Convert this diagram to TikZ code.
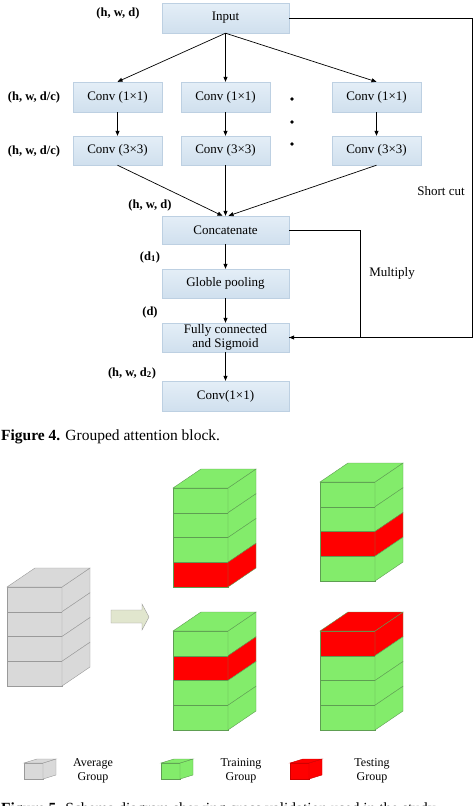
\documentclass[tikz,border=0pt]{standalone}
\usepackage{fontspec}
\setmainfont{Liberation Serif}
\usetikzlibrary{arrows.meta}
\definecolor{boxtop}{HTML}{E4EEF7}
\definecolor{boxbot}{HTML}{D0E0EE}
\definecolor{boxline}{HTML}{BDD0E2}
\definecolor{traingreen}{HTML}{83EC6B}
\definecolor{testred}{HTML}{FF0000}
\definecolor{avggrey}{HTML}{D9D9D9}
\definecolor{greenline}{HTML}{5E9E52}
\definecolor{greyline}{HTML}{9A9A9A}
\definecolor{arrowfill}{HTML}{E1E6CE}
\newcommand{\cubestack}[2]{%
  \foreach \col [count=\k] in {#2}{%
    \pgfmathsetmacro{\ya}{(\k-1)*24.75}%
    \pgfmathsetmacro{\yb}{\k*24.75}%
    \filldraw[draw=#1, fill=\col] (0,\ya) rectangle (55,\yb);%
    \filldraw[draw=#1, fill=\col] (55,\ya) -- (83,\ya-19) -- (83,\yb-19) -- (55,\yb) -- cycle;%
    \ifnum\k=1 \filldraw[draw=#1, fill=\col] (0,0) -- (28,-19) -- (83,-19) -- (55,0) -- cycle;\fi
  }%
}
\newcommand{\minicube}[2]{%
  \filldraw[draw=#1, fill=#2] (0,0) rectangle (19,16);%
  \filldraw[draw=#1, fill=#2] (19,0) -- (32,-4) -- (32,12) -- (19,16) -- cycle;%
  \filldraw[draw=#1, fill=#2] (0,0) -- (13,-4) -- (32,-4) -- (19,0) -- cycle;%
}
\tikzset{
  blk/.style={draw=boxline, top color=boxtop, bottom color=boxbot,
    minimum width=127pt, minimum height=29pt, inner sep=1pt,
    align=center, font=\fontsize{13}{14.5}\selectfont},
  convblk/.style={blk, minimum width=89pt},
  dimlbl/.style={font=\fontsize{12.5}{14}\selectfont\bfseries},
  arr/.style={-{Triangle[length=5pt,width=4pt]}, line width=0.7pt},
  plain/.style={line width=0.7pt},
  lgd/.style={align=center, font=\fontsize{12}{14}\selectfont}
}
\begin{document}
\begin{tikzpicture}[x=1pt, y=-1pt]
  \useasboundingbox (0,0) rectangle (474,806);
  \node[blk, minimum height=30pt] (inp) at (225.5,18) {Input};
  \node[convblk, minimum height=30pt] (c1a) at (117.5,97) {Conv (1×1)};
  \node[convblk, minimum height=30pt] (c1b) at (225.5,97) {Conv (1×1)};
  \node[convblk, minimum height=30pt] (c1c) at (376.5,97) {Conv (1×1)};
  \node[convblk] (c3a) at (117.5,150.5) {Conv (3×3)};
  \node[convblk] (c3b) at (225.5,150.5) {Conv (3×3)};
  \node[convblk] (c3c) at (376.5,150.5) {Conv (3×3)};
  \node[blk, minimum height=28pt] (cat) at (225.5,230) {Concatenate};
  \node[blk] (pool) at (225.5,283.5) {Globle pooling};
  \node[blk] (fc) at (225.5,337.5) {Fully connected\\and Sigmoid};
  \node[blk, minimum height=30pt] (out) at (225.5,396) {Conv(1×1)};
  \node[dimlbl] (d0) at (118,13) {(h, w, d)};
  \node[dimlbl] (d1) at (34,97) {(h, w, d/c)};
  \node[dimlbl] (d2) at (34,151) {(h, w, d/c)};
  \node[dimlbl] (d3) at (150,205) {(h, w, d)};
  \node[dimlbl] (d4) at (150,257) {(d\textsubscript{1})};
  \node[dimlbl] (d5) at (150,312) {(d)};
  \node[dimlbl] (d6) at (132,373) {(h, w, d\textsubscript{2})};
  \foreach \yy in {99,122,144} \fill (292,\yy) circle (1.8);
  \draw[arr] (inp.south) -- (c1a.north);
  \draw[arr] (inp.south) -- (c1b.north);
  \draw[arr] (inp.south) -- (c1c.north);
  \draw[arr] (c1a) -- (c3a);
  \draw[arr] (c1b) -- (c3b);
  \draw[arr] (c1c) -- (c3c);
  \draw[arr] (c3a.south) -- ([xshift=-3pt]cat.north);
  \draw[arr] (c3b.south) -- (cat.north);
  \draw[arr] (c3c.south) -- ([xshift=3pt]cat.north);
  \draw[arr] (cat) -- (pool);
  \draw[arr] (pool) -- (fc);
  \draw[arr] (fc) -- (out);
  \coordinate (sc) at (472.5,18);
  \coordinate (mu) at (360,230);
  \draw[arr] (inp.east) -- (sc) |- (fc.east);
  \draw[plain] (cat.east) -- (mu) |- (fc.east);
  \node[font=\fontsize{13}{14}\selectfont] (sctxt) at (441,191) {Short cut};
  \node[font=\fontsize{13}{14}\selectfont] (mutxt) at (392,273) {Multiply};
  \node[anchor=west, inner sep=1pt, font=\fontsize{15.5}{17}\selectfont] (cap4) at (0,437) {\textbf{Figure 4.} Grouped attention block.};
  \begin{scope}[shift={(7,587)}]\cubestack{greyline}{avggrey,avggrey,avggrey,avggrey}\end{scope}
  \begin{scope}[shift={(173,488)}]\cubestack{greenline}{traingreen,traingreen,traingreen,testred}\end{scope}
  \begin{scope}[shift={(320,482)}]\cubestack{greenline}{traingreen,traingreen,testred,traingreen}\end{scope}
  \begin{scope}[shift={(173,631)}]\cubestack{greenline}{traingreen,testred,traingreen,traingreen}\end{scope}
  \begin{scope}[shift={(320,631)}]\cubestack{greenline}{testred,traingreen,traingreen,traingreen}\end{scope}
  \filldraw[draw=greyline, fill=arrowfill] (111,610) -- (142,610) -- (142,604) -- (149,617)
    -- (142,630) -- (142,623) -- (111,623) -- cycle;
  \begin{scope}[shift={(24,763)}]\minicube{greyline}{avggrey}\end{scope}
  \begin{scope}[shift={(161,763)}]\minicube{greenline}{traingreen}\end{scope}
  \begin{scope}[shift={(290,763)}]\minicube{testred!80!black}{testred}\end{scope}
  \node[lgd] (lavg) at (93,771) {Average\\Group};
  \node[lgd] (ltrain) at (241,771) {Training\\Group};
  \node[lgd] (ltest) at (372,771) {Testing\\Group};
  \node[anchor=west, inner sep=1pt, font=\fontsize{15.5}{17}\selectfont] (cap5) at (0,810) {\textbf{Figure 5.} Schema diagram showing cross validation used in the study};
\end{tikzpicture}
\end{document}
